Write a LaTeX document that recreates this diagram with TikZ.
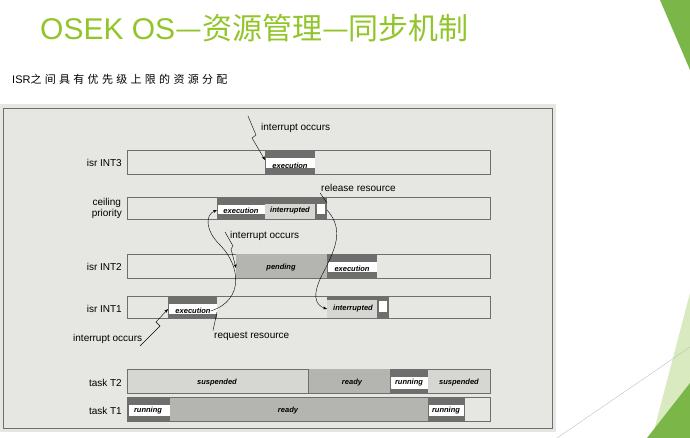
\documentclass[tikz,border=0pt]{standalone}
\usepackage{fontspec}
\setmainfont{Liberation Sans}
\newfontfamily\cjk{Noto Sans CJK SC}
\newfontfamily\cjkw[LetterSpace=30]{Noto Sans CJK SC}
\usetikzlibrary{arrows.meta}
\definecolor{paper}{HTML}{E6E6E3}
\definecolor{lite}{HTML}{D6D6D3}
\definecolor{mid}{HTML}{B4B4B1}
\definecolor{dark}{HTML}{6E6E6C}
\definecolor{ttl}{HTML}{92C52A}
\definecolor{gA}{HTML}{7AB648}
\definecolor{gB}{HTML}{D9EAC0}
\begin{document}
\begin{tikzpicture}[x=1pt,y=-1pt,
 lbl/.style={font=\fontsize{10}{11}\selectfont,inner sep=1pt},
 st/.style={font=\fontsize{7.5}{8}\selectfont\itshape\bfseries,inner sep=0pt},
 bar/.style={draw=dark,line width=0.5pt,fill=lite},
 arr/.style={-{Stealth[length=4pt]},line width=0.4pt}]
\useasboundingbox (0,0) rectangle (690,438);
% decoration
\fill[gA] (660,0) -- (690,0) -- (690,70) -- cycle;
\fill[gB] (652,438) -- (690,293) -- (690,438) -- cycle;
\fill[gA] (647,438) -- (690,383) -- (690,438) -- cycle;
\draw[gray!50,line width=0.4pt] (557,438) -- (690,347);
% title
\node[anchor=west,text=ttl,inner sep=0pt,font=\fontsize{30}{32}\selectfont] (title) at (40,28) {OSEK OS\cjk{—资源管理—同步机制}};
\node[anchor=west,inner sep=0pt,font=\fontsize{11}{12}\selectfont] (sub) at (12,79) {ISR\cjkw{之间具有优先级上限的资源分配}};
% photo frame
\fill[paper] (0,104) rectangle (556,432);
\draw[dark,line width=0.8pt] (3,108) rectangle (552,428);
% bars
\foreach \n/\ya/\yb in {b3/150/174,bc/197/219,b2/254/278,b1/296/318}{
 \draw[bar,fill=paper] (127,\ya) rectangle (490,\yb);}
% INT3 execution
\fill[dark] (265,150) rectangle (315,174);
\fill[white] (266,158) rectangle (315,168);
\node[st] (e3) at (290,166) {execution};
% ceiling
\fill[dark] (217,197) rectangle (265,219);
\fill[white] (218,205) rectangle (265,214);
\node[st] (ec) at (241,211) {execution};
\fill[dark] (265,197) rectangle (315,204);
\fill[lite] (265,204) rectangle (315,219);
\node[st] (ic) at (290,211) {interrupted};
\fill[dark] (315,197) rectangle (327,219);
\fill[white] (317,204) rectangle (325,214);
% INT2
\fill[mid] (236,254) rectangle (327,278);
\node[st] (p2) at (281,268) {pending};
\fill[dark] (327,254) rectangle (377,278);
\fill[white] (328,262) rectangle (377,272);
\node[st] (e2) at (352,269) {execution};
% INT1
\fill[dark] (168,296) rectangle (217,318);
\fill[white] (169,304) rectangle (217,314);
\node[st] (e1) at (193,311) {execution};
\fill[lite] (327,296) rectangle (377,318);
\fill[dark] (327,296) rectangle (377,300);
\node[st] (i1) at (353,309) {interrupted};
\fill[dark] (377,296) rectangle (389,318);
\fill[white] (379,301) rectangle (387,312);
% tasks
\draw[bar] (127,369) rectangle (490,393);
\fill[mid] (308,369) rectangle (390,393);
\fill[dark] (390,369) rectangle (428,393);
\fill[white] (391,377) rectangle (428,389);
\draw[dark] (308,369) -- (308,393);
\node[st] (s2a) at (217,383) {suspended};
\node[st] (r2) at (352,383) {ready};
\node[st] (ru2) at (409,383) {running};
\node[st] (s2b) at (459,383) {suspended};
\draw[bar,fill=paper] (127,397) rectangle (490,421);
\fill[mid] (128,397.5) rectangle (464,420.5);
\fill[dark] (128,397.5) rectangle (170,420.5);
\fill[white] (129,405) rectangle (170,416);
\fill[dark] (428,397.5) rectangle (464,420.5);
\fill[white] (429,405) rectangle (464,416);
\draw[dark] (464,397) -- (464,421);
\node[st] (ru1a) at (148,411) {running};
\node[st] (r1) at (288,411) {ready};
\node[st] (ru1b) at (446,411) {running};
% row labels
\node[lbl,anchor=east] (l3) at (123,163) {isr INT3};
\node[lbl,anchor=east,align=center] (lc) at (123,208) {ceiling\\priority};
\node[lbl,anchor=east] (l2) at (123,267) {isr INT2};
\node[lbl,anchor=east] (l1) at (123,309) {isr INT1};
\node[lbl,anchor=east] (lt2) at (123,383) {task T2};
\node[lbl,anchor=east] (lt1) at (123,411) {task T1};
% annotations
\node[lbl,anchor=west] (a3) at (260,128) {interrupt occurs};
\coordinate (z3) at (248,116);
\draw[arr] (z3) -- (256,135) -- (252,138) -- (265,160);
\node[lbl,anchor=west] (rel) at (320,188) {release resource};
\draw (327,203) -- (rel.south west);
\node[lbl,anchor=west] (a2) at (229,236) {interrupt occurs};
\coordinate (z2) at (225,232);
\draw[arr] (z2) -- (233,246) -- (231,249) -- (236,268);
\node[lbl,anchor=west] (req) at (213,336) {request resource};
\draw (217,312) -- (req.north west);
\node[lbl,anchor=west] (a1) at (72,339) {interrupt occurs};
\coordinate (z1) at (140,346);
\draw[arr] (z1) -- (160,326) -- (156,322) -- (168,309);
% curves
\draw[arr] (e1.east) .. controls (245,300) and (240,265) .. (220,245) .. controls (205,230) and (205,215) .. (217,210);
\draw[arr] (327,210) .. controls (345,230) and (335,250) .. (322,275) .. controls (312,295) and (315,305) .. (327,309);
\end{tikzpicture}
\end{document}
